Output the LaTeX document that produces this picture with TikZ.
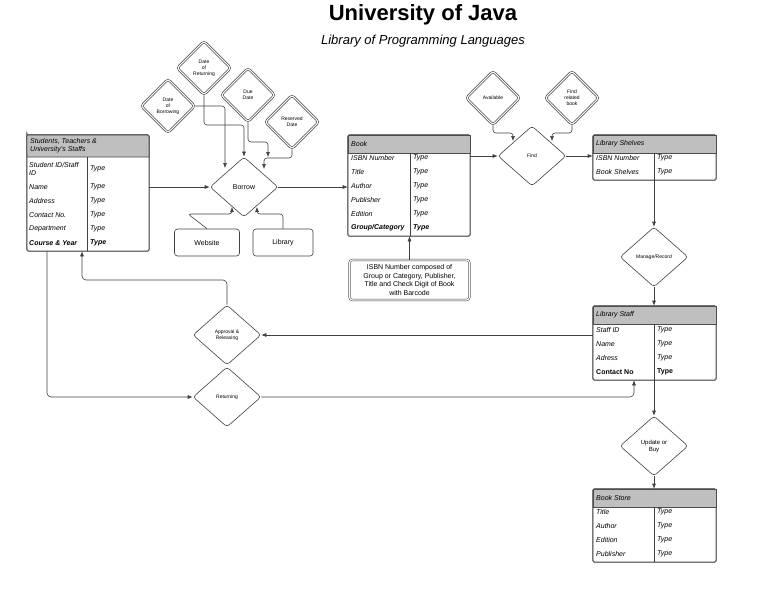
\documentclass[tikz,border=0pt]{standalone}
\usepackage{fontspec}
\setmainfont{Liberation Sans}
\usetikzlibrary{shapes.geometric,arrows.meta}
\begin{document}
\begin{tikzpicture}[x=1pt,y=-1pt,
  ln/.style={draw=black!75,line width=0.6pt},
  arr/.style={ln,-{Latex[length=5pt,width=4pt]}},
  tbl/.style={draw=black!70,rounded corners=1.5pt,line width=0.6pt,inner sep=0},
  hdr/.style={fill=black!25,draw=black!70,line width=0.6pt},
  cell/.style={anchor=west,inner sep=0,font=\fontsize{7}{8}\selectfont\itshape,align=left},
  bcell/.style={cell,font=\fontsize{7}{8}\selectfont\bfseries},
  bicell/.style={cell,font=\fontsize{7}{8}\selectfont\bfseries\itshape},
  dia/.style={diamond,draw=black!75,line width=0.6pt,rounded corners=3pt,inner sep=0,font=\fontsize{5}{6}\selectfont,align=center},
  sdia/.style={dia,double,double distance=1.2pt,minimum width=54pt,minimum height=54pt},
  bdia/.style={dia,minimum width=68pt,minimum height=60pt},
  rbox/.style={draw=black!75,rounded corners=3pt,line width=0.6pt,font=\fontsize{7}{8}\selectfont,minimum width=65pt,minimum height=27pt}
]
\useasboundingbox (0,0) rectangle (768,594);
\node[font=\bfseries\fontsize{22}{24}\selectfont] (title) at (423,15) {University of Java};
\node[font=\itshape\fontsize{13}{15}\selectfont] (sub) at (423,41) {Library of Programming Languages};

% Students table
\node[tbl,minimum width=122pt,minimum height=116pt] (stu) at (88,193) {};
\draw[hdr] ([yshift=1.5pt]stu.north west) ++(0,-1.5) coordinate (a) {[rounded corners=1.5pt] -- (27,135) -- (149,135)} -- (149,157) -- (27,157) -- cycle;
\draw[tbl] (stu.north west) rectangle (stu.south east);
\draw[ln] (87,157) -- (87,251);
\node[cell] (stuh) at (30,146) {Students, Teachers \&\\University's Staffs};
\node[cell] at (29,169) {Student ID/Staff\\ID};
\foreach \y/\a in {187/Name,201/Address,215/Contact No.,229/Department} \node[cell] at (29,\y) {\a};
\node[bicell] at (29,243) {Course \& Year};
\foreach \y in {169,187,201,215,229} \node[cell] at (90,\y) {Type};
\node[bicell] at (90,243) {Type};

% Book table
\node[tbl,minimum width=122pt,minimum height=101pt] (book) at (409,185.5) {};
\draw[hdr] (348,135) rectangle (470,153);
\draw[tbl] (book.north west) rectangle (book.south east);
\draw[ln] (410,153) -- (410,236);
\node[cell] at (351,144) {Book};
\foreach \y/\a in {158/ISBN Number,172/Title,186/Author,200/Publisher,214/Edition} {\node[cell] at (351,\y) {\a}; \node[cell] at (413,\y) {Type};}
\node[bicell] at (351,228) {Group/Category}; \node[bicell] at (413,228) {Type};

% Library Shelves
\node[tbl,minimum width=123pt,minimum height=45pt] (shelf) at (654.5,157.5) {};
\draw[hdr] (593,135) rectangle (716,153);
\draw[tbl] (shelf.north west) rectangle (shelf.south east);
\draw[ln] (654,153) -- (654,180);
\node[cell] at (596,144) {Library Shelves};
\foreach \y/\a in {158/ISBN Number,172/Book Shelves} {\node[cell] at (596,\y) {\a}; \node[cell] at (657,\y) {Type};}

% Library Staff
\node[tbl,minimum width=123pt,minimum height=74pt] (staff) at (654.5,343) {};
\draw[hdr] (593,306) rectangle (716,324);
\draw[tbl] (staff.north west) rectangle (staff.south east);
\draw[ln] (654,324) -- (654,380);
\node[cell] at (596,315) {Library Staff};
\foreach \y/\a in {330/Staff ID,344/Name,358/Adress} {\node[cell] at (596,\y) {\a}; \node[cell] at (657,\y) {Type};}
\node[bcell] at (596,372) {Contact No}; \node[bcell] at (657,372) {Type};

% Book Store
\node[tbl,minimum width=123pt,minimum height=73pt] (store) at (654.5,525.5) {};
\draw[hdr] (593,489) rectangle (716,507);
\draw[tbl] (store.north west) rectangle (store.south east);
\draw[ln] (654,507) -- (654,562);
\node[cell] at (596,498) {Book Store};
\foreach \y/\a in {512/Title,526/Author,540/Edition,554/Publisher} {\node[cell] at (596,\y) {\a}; \node[cell] at (657,\y) {Type};}

% diamonds
\node[bdia,font=\fontsize{7}{8}\selectfont] (borrow) at (244,187) {Borrow};
\node[bdia] (find) at (532,156) {Find};
\node[bdia] (manage) at (654,257) {Manage/Record};
\node[bdia] (appr) at (227,335) {Approval \&\\Releasing};
\node[bdia] (ret) at (227,397) {Returning};
\node[bdia,font=\fontsize{6}{7}\selectfont] (upd) at (654,446) {Update or\\Buy};

\node[sdia] (dret) at (204,68) {Date\\of\\Returning};
\node[sdia] (ddue) at (248,95) {Due\\Date};
\node[sdia] (dbor) at (168,106) {Date\\of\\Borrowing};
\node[sdia] (dres) at (292,122) {Reserved\\Date};
\node[sdia] (avail) at (493,98) {Available};
\node[sdia] (frel) at (572,98) {Find\\related\\book};

\node[rbox] (web) at (207,242.5) {Website};
\node[rbox,minimum width=60pt] (lib) at (283,242.5) {Library};
\node[draw=black!75,double,double distance=1.2pt,rounded corners=3pt,line width=0.5pt,font=\fontsize{7}{8.5}\selectfont,align=center,minimum width=120pt,minimum height=40pt,inner sep=1pt] (note) at (409.5,280) {ISBN Number composed of\\Group or Category, Publisher,\\Title and Check Digit of Book\\with Barcode};

% connectors
\draw[arr] (stu.east |- borrow) -- (borrow.west);
\draw[arr] (borrow.east) -- (book.west |- borrow);
\draw[arr,rounded corners=3pt] (dret.south) -- (204,125) -- (244,125) -- (borrow.north);
\draw[arr,rounded corners=3pt] (dbor.east) -- (225,106) -- (225,168);
\draw[arr,rounded corners=3pt] (ddue.south) -- (248,142) -- (268,142) -- (268,157);
\draw[arr,rounded corners=3pt] (dres.south) -- (292,158) -- (264,158) -- (264,169);
\draw[arr,rounded corners=3pt] (web.north) -- (188,214) -- (232,214) -- (232,207);
\draw[arr,rounded corners=3pt] (lib.north) -- (283,214) -- (257,214) -- (257,207);
\draw[arr] (note.north) -- (book.south -| note.north);
\draw[arr] (book.east |- find) -- (find.west);
\draw[arr] (find.east) -- (shelf.west |- find);
\draw[arr,rounded corners=3pt] (avail.south) -- (493,133) -- (513,133) -- (513,141);
\draw[arr,rounded corners=3pt] (frel.south) -- (572,133) -- (552,133) -- (552,141);
\draw[arr] (shelf.south -| manage) -- (manage.north);
\draw[arr] (manage.south) -- (staff.north -| manage);
\draw[arr] (staff.west |- appr) -- (appr.east);
\draw[arr,rounded corners=4pt] (appr.north) -- (227,280) -- (82,280) -- (stu.south -| 82,0);
\draw[arr,rounded corners=4pt] (stu.south -| 47,0) -- (47,397) -- (ret.west);
\draw[arr,rounded corners=4pt] (ret.east) -- (634,397) -- (staff.south -| 634,0);
\draw[arr] (staff.south -| upd) -- (upd.north);
\draw[arr] (upd.south) -- (store.north -| upd);
\end{tikzpicture}
\end{document}
